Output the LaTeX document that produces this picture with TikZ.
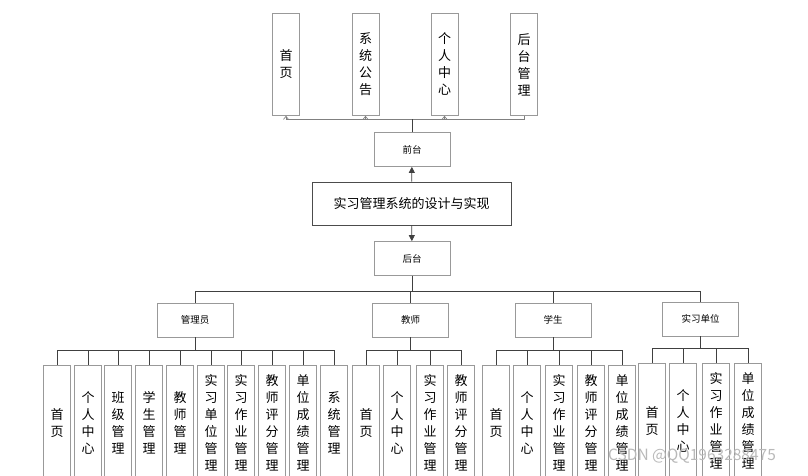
\documentclass[tikz,border=0pt]{standalone}
\usepackage{fontspec}
\setmainfont{Noto Sans CJK SC}
\usetikzlibrary{arrows.meta}
\begin{document}
\begin{tikzpicture}[x=1pt,y=-1pt,
  leaf/.style={draw=gray!80,line width=0.8pt,minimum width=27pt,minimum height=115pt,anchor=north,inner sep=1pt,align=center,font=\fontsize{13}{17}\selectfont},
  top/.style={leaf,minimum height=102pt},
  role/.style={draw=gray!80,line width=0.8pt,minimum width=76pt,minimum height=34pt,font=\fontsize{9.5}{11}\selectfont},
  conn/.style={draw=black!75,line width=0.7pt},
  arr/.style={conn,-{Triangle[length=6pt,width=6pt]}}]
  \useasboundingbox (0,0) rectangle (808,475);
  \clip (0,0) rectangle (808,475);
  % top level
  \node[role,draw=black!70,minimum width=199pt,minimum height=43pt,font=\fontsize{13}{15}\selectfont] (sys) at (411.5,203.5) {实习管理系统的设计与实现};
  \node[role] (front) at (412,149.5) {前台};
  \node[role] (back) at (412,258.5) {后台};
  \draw[arr] (sys) -- (front);
  \draw[arr] (sys) -- (back);
  % front modules
  \foreach \x/\t [count=\i] in {286/{首\\页},365.5/{系\\统\\公\\告},444.5/{个\\人\\中\\心},524/{后\\台\\管\\理}}
    \node[top] (f\i) at (\x,13) {\t};
  \foreach \i in {1,2,3}
    \draw[conn,-{Straight Barb[length=3pt,width=5pt]},gray] (front.north) -- ++(0,-13) -| (f\i.south);
  \draw[conn,gray] (front.north) -- ++(0,-13) -| (f4.south);
  \draw[conn] (front.north) -- ++(0,-13);
  % roles
  \node[role] (adm) at (195,320) {管理员};
  \node[role] (tea) at (410.5,320) {教师};
  \node[role] (stu) at (553,320) {学生};
  \node[role] (unit) at (700.5,319) {实习单位};
  \foreach \r in {adm,tea,stu,unit}
    \draw[conn] (back.south) -- ++(0,15) -| (\r.north);
  % leaves
  \foreach \x/\t [count=\i] in {57/{首\\页},88/{个\\人\\中\\心},118/{班\\级\\管\\理},149/{学\\生\\管\\理},180/{教\\师\\管\\理},211/{实\\习\\单\\位\\管\\理},241/{实\\习\\作\\业\\管\\理},272/{教\\师\\评\\分\\管\\理},303/{单\\位\\成\\绩\\管\\理},334/{系\\统\\管\\理}}{
    \node[leaf] (a\i) at (\x,365) {\t};
    \draw[conn] (adm.south) -- ++(0,13) -| (a\i.north);}
  \foreach \x/\t [count=\i] in {366/{首\\页},397/{个\\人\\中\\心},430/{实\\习\\作\\业\\管\\理},461/{教\\师\\评\\分\\管\\理}}{
    \node[leaf] (t\i) at (\x,365) {\t};
    \draw[conn] (tea.south) -- ++(0,13) -| (t\i.north);}
  \foreach \x/\t [count=\i] in {496/{首\\页},527/{个\\人\\中\\心},559/{实\\习\\作\\业\\管\\理},591/{教\\师\\评\\分\\管\\理},622/{单\\位\\成\\绩\\管\\理}}{
    \node[leaf] (s\i) at (\x,365) {\t};
    \draw[conn] (stu.south) -- ++(0,13) -| (s\i.north);}
  \foreach \x/\t [count=\i] in {652/{首\\页},683/{个\\人\\中\\心},716/{实\\习\\作\\业\\管\\理},748/{单\\位\\成\\绩\\管\\理}}{
    \node[leaf] (u\i) at (\x,363) {\t};
    \draw[conn] (unit.south) -- ++(0,12) -| (u\i.north);}
  \node[text=gray!55,font=\fontsize{15.5}{17}\selectfont] (mark) at (692,456) {CSDN @QQ1963288475};
\end{tikzpicture}
\end{document}
